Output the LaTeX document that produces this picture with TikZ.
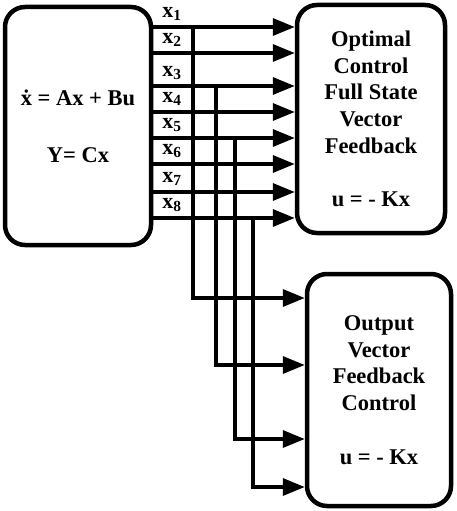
\documentclass[tikz,border=0pt]{standalone}
\usepackage{fontspec}
\setmainfont{Liberation Serif}
\usetikzlibrary{arrows.meta, positioning}

\begin{document}
\begin{tikzpicture}[x=1pt, y=-1pt,
    box/.style={rectangle, rounded corners=20pt, draw, line width=4.5pt, align=center, font=\fontsize{22.5}{26.7}\selectfont\bfseries},
    sig/.style={-{Triangle[length=22pt, width=17pt]}, line width=3.4pt},
    lab/.style={font=\fontsize{22}{22}\selectfont\bfseries}
]
\useasboundingbox (0,0) rectangle (456,511);

% State space model
\node[box, minimum width=146pt, minimum height=238pt] (plant) at (78,126) {\.{x} = Ax + Bu\\[30pt] Y= Cx};

% Controllers
\node[box, minimum width=148pt, minimum height=228pt] (opt) at (371,119) {
    Optimal\\Control\\Full State\\Vector\\Feedback\\[26.7pt] u = - Kx
};
\node[box, minimum width=144pt, minimum height=232pt] (ovf) at (379,390) {
    Output\\Vector\\Feedback\\Control\\[26.7pt] u = - Kx
};

% State signals to full state feedback
\draw[sig] (plant.east |- 0,27) -- (opt.west |- 0,27);
\draw[sig] (plant.east |- 0,53) -- (opt.west |- 0,53);
\draw[sig] (plant.east |- 0,86) -- (opt.west |- 0,86);
\draw[sig] (plant.east |- 0,112) -- (opt.west |- 0,112);
\draw[sig] (plant.east |- 0,138) -- (opt.west |- 0,138);
\draw[sig] (plant.east |- 0,164) -- (opt.west |- 0,164);
\draw[sig] (plant.east |- 0,192) -- (opt.west |- 0,192);
\draw[sig] (plant.east |- 0,218) -- (opt.west |- 0,218);

% Taps to output feedback
\coordinate (t1) at (193,27);
\coordinate (t3) at (216,86);
\coordinate (t5) at (235,138);
\coordinate (t8) at (253,218);
\draw[sig] (t1) |- (ovf.west |- 0,298);
\draw[sig] (t3) |- (ovf.west |- 0,365);
\draw[sig] (t5) |- (ovf.west |- 0,439);
\draw[sig] (t8) |- (ovf.west |- 0,487);

% Signal labels
\node[lab] (l1) at (172,14) {x\textsubscript{1}};
\node[lab] (l2) at (172,40) {x\textsubscript{2}};
\node[lab] (l3) at (172,73) {x\textsubscript{3}};
\node[lab] (l4) at (172,99) {x\textsubscript{4}};
\node[lab] (l5) at (172,125) {x\textsubscript{5}};
\node[lab] (l6) at (172,151) {x\textsubscript{6}};
\node[lab] (l7) at (172,179) {x\textsubscript{7}};
\node[lab] (l8) at (172,205) {x\textsubscript{8}};
\end{tikzpicture}
\end{document}
